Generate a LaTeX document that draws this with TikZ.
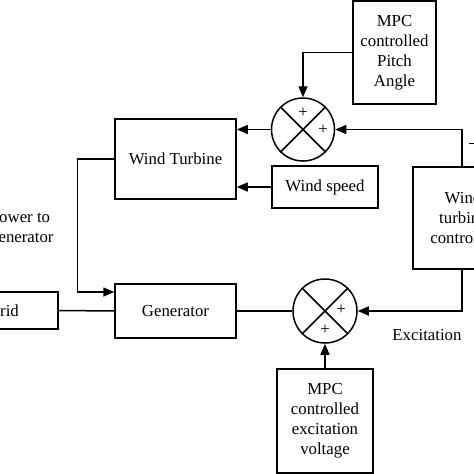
\documentclass[tikz,border=0pt]{standalone}
\usepackage{fontspec}
\setmainfont{Liberation Serif}
\usetikzlibrary{arrows.meta,calc}
\begin{document}
\begin{tikzpicture}[x=1pt,y=-1pt,
  every node/.style={font=\fontsize{16.8}{20}\selectfont, inner sep=0pt, align=center},
  blk/.style={draw, line width=1.5pt, rectangle},
  sumj/.style={draw, line width=1.5pt, circle},
  wire/.style={line width=1.5pt},
  arr/.style={line width=1.5pt, -{Triangle[length=11pt,width=9pt]}}]
\useasboundingbox (0,0) rectangle (474,474);
\clip (0,0) rectangle (474,474);
\fill[white] (0,0) rectangle (474,474);
% blocks
\node[blk, minimum width=83pt, minimum height=103pt] (pitch) at (394.5,52.5) {MPC\\controlled\\Pitch\\Angle};
\node[sumj, minimum size=63pt] (s1) at (303,129.5) {};
\node[blk, minimum width=121pt, minimum height=80pt] (turb) at (175.5,159) {Wind Turbine};
\node[blk, minimum width=106pt, minimum height=42pt] (wind) at (325,187) {Wind speed};
\node[blk, minimum width=121pt, minimum height=54pt] (gen) at (175.5,311) {Generator};
\node[blk, minimum width=103pt, minimum height=37pt] (grid) at (6.5,310.5) {\hspace*{-6pt}Grid};
\node[sumj, minimum size=64pt] (s2) at (325,311) {};
\node[blk, minimum width=100pt, minimum height=102pt] (ctrl) at (463,218) {Wind\\turbine\\controller};
\node[blk, minimum width=96pt, minimum height=104pt] (exc) at (325,421) {MPC\\controlled\\excitation\\voltage};
% labels
\node (lexc) at (427,335) {Excitation};
\node (lpow) at (20,227) {Power to\\Generator};
% summing junction crosses and signs
\draw[wire] (s1.north east) -- (s1.south west) (s1.north west) -- (s1.south east);
\draw[wire] (s2.north east) -- (s2.south west) (s2.north west) -- (s2.south east);
\node (p1a) at (303,113) {+};
\node (p1b) at (323,130) {+};
\node (p2a) at (341,310) {+};
\node (p2b) at (325,330) {+};
% connectors
\draw[arr] (pitch.west) -| (s1.north);
\draw[arr] ([xshift=-1pt]ctrl.north) |- (s1.east);
\draw[arr] (s1.west) -- (s1.west -| turb.east);
\draw[arr] (wind.west) -- (wind.west -| turb.east);
\draw[arr] (turb.west) -- ++(-37,0) |- ([yshift=19pt]gen.west);
\draw[wire] (grid.east) -- (gen.west);
\draw[wire] (gen.east) -- (s2.west);
\draw[arr] ([xshift=-1pt]ctrl.south) |- (s2.east);
\draw[arr] (exc.north) -- (s2.south);
\coordinate (da) at (469,143);
\coordinate (db) at (476,143);
\draw[line width=1pt] (da) -- (db);
\end{tikzpicture}
\end{document}
